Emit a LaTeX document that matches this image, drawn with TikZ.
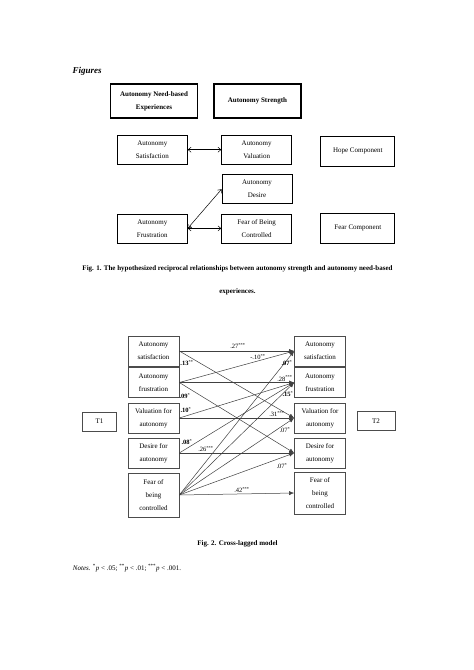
\documentclass[tikz,border=0pt]{standalone}
\usepackage{fontspec}
\setmainfont{Liberation Serif}
\usetikzlibrary{arrows.meta}
\tikzset{
	txt/.style={font=\fontsize{7}{13}\selectfont},
	abox/.style={draw, line width=0.8pt, align=center, inner sep=0pt, minimum width=70pt, minimum height=29pt, txt},
	topbox/.style={abox, line width=1.2pt, minimum width=87pt, minimum height=34pt, font=\fontsize{7}{12.7}\selectfont\bfseries},
	cbox/.style={abox, minimum width=74pt, minimum height=30pt},
	mbox/.style={draw=black!70, line width=0.6pt, align=center, inner sep=0pt, minimum width=51pt, minimum height=30pt, txt},
	tbox/.style={mbox, minimum width=34pt, minimum height=19pt},
	twoway/.style={{Straight Barb[length=3pt,width=5pt]}-{Straight Barb[length=3pt,width=5pt]}, line width=0.5pt},
	lag/.style={-{Latex[length=5pt,width=4pt]}, draw=black!75, line width=0.5pt},
	coef/.style={font=\fontsize{6.5}{7}\selectfont, inner sep=0pt},
	figcap/.style={font=\fontsize{7}{8}\selectfont\bfseries, inner sep=0pt},
}
\begin{document}
\begin{tikzpicture}[x=1pt,y=-1pt]
	
	\path[fill=white] (0,0) rectangle (474,670);
	
	\node[anchor=west, inner sep=0pt, font=\fontsize{9}{10}\selectfont\bfseries\itshape] (figs) at (72.5,71) {Figures};
	
	\node[topbox] (need) at (154,101) {Autonomy Need-based\\Experiences};
	\node[topbox] (strength) at (257.4,101) {Autonomy Strength};
	
	\node[abox] (sat) at (152.3,149.7) {Autonomy\\Satisfaction};
	\node[abox] (valn) at (256.7,149.7) {Autonomy\\Valuation};
	\node[cbox] (hope) at (357.8,151.3) {Hope Component};
	\node[abox] (desire) at (257,189.2) {Autonomy\\Desire};
	\node[abox] (frust) at (152.3,228.4) {Autonomy\\Frustration};
	\node[abox] (fearc) at (256.7,228.4) {Fear of Being\\Controlled};
	\node[cbox] (fearcomp) at (357.8,228.4) {Fear Component};
	
	\draw[twoway] (sat) -- (valn);
	\draw[twoway] (frust.east) -- (desire.west);
	\draw[twoway] (frust) -- (fearc);
	
	\node[figcap] (cap1) at (237.5,269) {Fig. 1. The hypothesized reciprocal relationships between autonomy strength and autonomy need-based};
	\node[figcap] (cap1b) at (237.5,292) {experiences.};
	
	\foreach \n/\t/\y in {sat/{Autonomy\\satisfaction}/351,frust/{Autonomy\\frustration}/382.5,val/{Valuation for\\autonomy}/418,des/{Desire for\\autonomy}/453}
	{
		\node[mbox] (l\n) at (153.5,\y) {\t};
		\node[mbox] (r\n) at (320,\y) {\t};
	}
	\node[mbox, minimum height=44pt] (lfear) at (153.5,495) {Fear of\\being\\controlled};
	\node[mbox, minimum height=42pt] (rfear) at (320,493) {Fear of\\being\\controlled};
	
	\node[tbox] (t1) at (99.5,421.5) {T1};
	\node[tbox, minimum width=38pt] (t2) at (376,421) {T2};
	
	\foreach \a/\b in {lsat/rsat,lsat/rval,lfrust/rsat,lfrust/rfrust,lfrust/rdes,lval/rfrust,lval/rval,ldes/rfrust,ldes/rdes,lfear/rsat,lfear/rfrust,lfear/rval,lfear/rdes,lfear/rfear}
	\draw[lag] (\a.east) -- (\b.west);
	
	\node[coef] (c27) at (238,346) {.27\textsuperscript{***}};
	\node[coef] (c10n) at (258,357) {-.10\textsuperscript{**}};
	\node[coef] (c07a) at (287,363) {\textbf{.07}\textsuperscript{*}};
	\node[coef] (c28) at (285,378.5) {.28\textsuperscript{***}};
	\node[coef] (c15) at (288,394) {\textbf{.15}\textsuperscript{*}};
	\node[coef] (c31) at (277,414) {.31\textsuperscript{***}};
	\node[coef] (c07b) at (285,430) {.07\textsuperscript{*}};
	\node[coef] (c26) at (206,449) {.26\textsuperscript{***}};
	\node[coef] (c07c) at (282,466) {.07\textsuperscript{*}};
	\node[coef] (c42) at (242,490) {.42\textsuperscript{***}};
	\node[coef] (c13) at (187,363) {\textbf{.13}\textsuperscript{**}};
	\node[coef] (c09) at (185,396) {\textbf{.09}\textsuperscript{*}};
	\node[coef] (c10) at (186,410) {\textbf{.10}\textsuperscript{*}};
	\node[coef] (c08) at (187,442) {\textbf{.08}\textsuperscript{*}};
	
	\node[figcap] (cap2) at (237.5,544) {Fig. 2. Cross-lagged model};
	\node[anchor=west, inner sep=0pt, font=\fontsize{7}{8}\selectfont] (notes) at (72.7,568) {\textit{Notes.} \textsuperscript{*}\textit{p} < .05; \textsuperscript{**}\textit{p} < .01; \textsuperscript{***}\textit{p} < .001.};
	
\end{tikzpicture}
\end{document}
